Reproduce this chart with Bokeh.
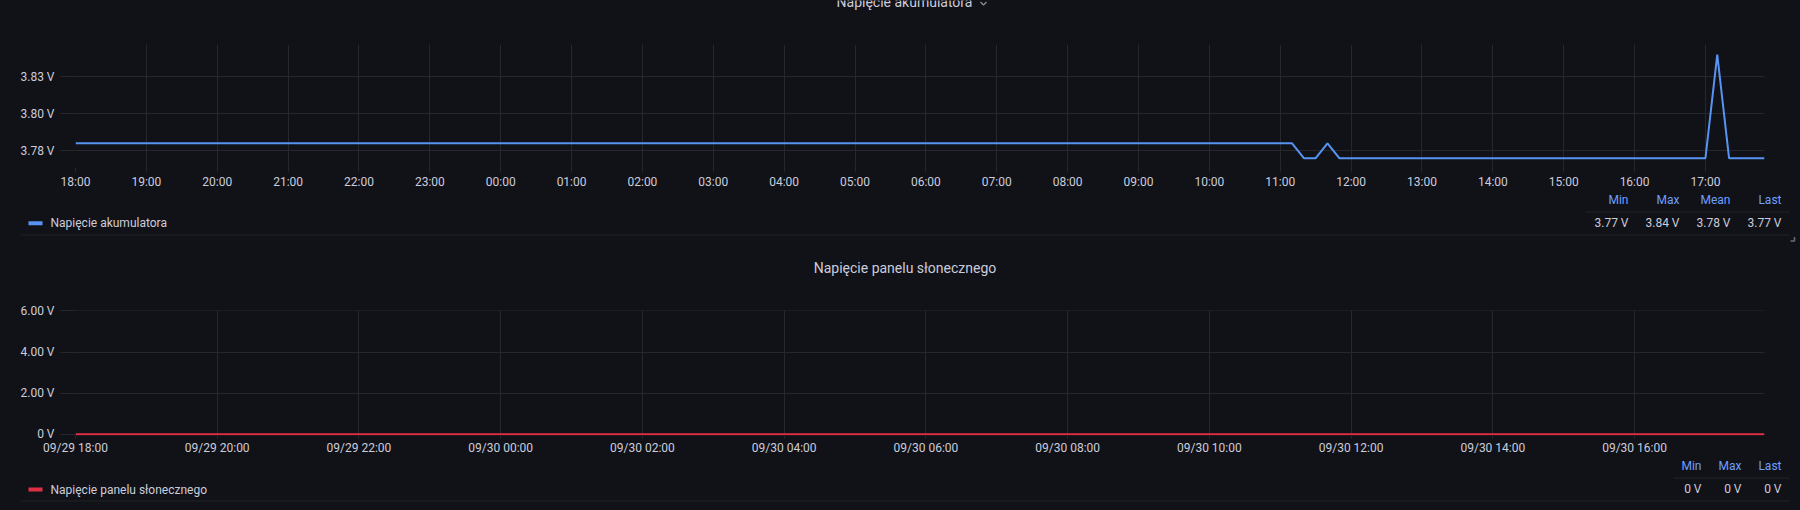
import pandas as pd
from bokeh.plotting import figure
from bokeh.models import (Range1d, FixedTicker, DatetimeTickFormatter,
                          ColumnDataSource, GlobalInlineStyleSheet)
from bokeh.core.properties import value
from bokeh.embed import file_html
from bokeh.resources import INLINE

# ---------------- data ----------------
battery_title = "Napięcie akumulatora"
solar_title = "Napięcie panelu słonecznego"

battery_times = ["2023-09-29 18:00", "2023-09-30 11:10", "2023-09-30 11:20",
                 "2023-09-30 11:30", "2023-09-30 11:40", "2023-09-30 11:50",
                 "2023-09-30 17:00", "2023-09-30 17:10", "2023-09-30 17:20",
                 "2023-09-30 17:50"]
battery_volts = [3.78, 3.78, 3.77, 3.77, 3.78, 3.77, 3.77, 3.84, 3.77, 3.77]

solar_times = ["2023-09-29 18:00", "2023-09-30 17:50"]
solar_volts = [0.0, 0.0]

battery_stat_names = ["Min", "Max", "Mean", "Last"]
battery_stat_values = ["3.77 V", "3.84 V", "3.78 V", "3.77 V"]
solar_stat_names = ["Min", "Max", "Last"]
solar_stat_values = ["0 V", "0 V", "0 V"]

battery_yticks = [3.775, 3.800, 3.825]
battery_ytick_labels = ["3.78 V", "3.80 V", "3.83 V"]
solar_yticks = [0.0, 2.0, 4.0, 6.0]
solar_ytick_labels = ["0 V", "2.00 V", "4.00 V", "6.00 V"]

time_start = "2023-09-29 18:00"
time_end = "2023-09-30 17:50"
battery_xticks = pd.date_range("2023-09-29 18:00", "2023-09-30 17:00", freq="1h")
solar_xticks = pd.date_range("2023-09-29 18:00", "2023-09-30 16:00", freq="2h")

# ---------------- style ----------------
BG = "#111217"
GRID = "#26282d"
SEP = "#202227"
TXT = "#ccccdc"
HDR = "#6e9fff"
BLUE = "#5794f2"
RED = "#e02f44"
FONT = value("Roboto")
W = 1800
FRAME_L, FRAME_R = 75, 1764

page_css = GlobalInlineStyleSheet(
    css="html, body {margin:0; padding:0; background:#111217; overflow:hidden;}")


def ms(ts):
    return [t.value // 10**6 for t in ts]


def make_chart(page_y0, page_y1, frame_top, frame_bottom, yrange, yticks, ylabels,
               xticks, xfmt, tick_out_x, standoff_x):
    p = figure(width=W, height=page_y1 - page_y0, x_axis_type="datetime",
               output_backend="svg", toolbar_location=None,
               x_range=Range1d(pd.Timestamp(time_start), pd.Timestamp(time_end)),
               y_range=Range1d(*yrange),
               min_border_left=FRAME_L, min_border_right=W - FRAME_R,
               min_border_top=frame_top - page_y0,
               min_border_bottom=page_y1 - frame_bottom,
               background_fill_color=BG, border_fill_color=BG,
               outline_line_color=None)
    p.toolbar.logo = None
    ax = p.xaxis[0]
    ax.ticker = FixedTicker(ticks=ms(xticks))
    ax.formatter = DatetimeTickFormatter(
        milliseconds=xfmt, seconds=xfmt, minsec=xfmt, minutes=xfmt,
        hourmin=xfmt, hours=xfmt, days=xfmt, months=xfmt, years=xfmt)
    ax.major_tick_out = tick_out_x
    ax.major_label_standoff = standoff_x
    ay = p.yaxis[0]
    ay.ticker = FixedTicker(ticks=yticks)
    ay.major_label_overrides = {t: l for t, l in zip(yticks, ylabels)}
    ay.major_tick_out = 15
    ay.major_label_standoff = 6
    for a in (ax, ay):
        a.axis_line_color = None
        a.major_tick_in = 0
        a.major_tick_line_color = GRID
        a.minor_tick_line_color = None
        a.major_label_text_font = "Roboto"
        a.major_label_text_font_size = "12px"
        a.major_label_text_color = TXT
    p.xgrid.ticker = ax.ticker
    p.ygrid.ticker = ay.ticker
    p.grid.grid_line_color = GRID
    p.grid.grid_line_width = 1
    return p


def make_deco(y0, y1, **kw):
    # a strip of the page whose data coordinates are page pixels
    p = figure(width=W, height=y1 - y0, output_backend="svg",
               toolbar_location=None, x_range=Range1d(0, W),
               y_range=Range1d(y1, y0), min_border=0,
               x_axis_location=None, y_axis_location=None,
               background_fill_color=BG, border_fill_color=BG,
               outline_line_color=None, **kw)
    p.toolbar.logo = None
    p.grid.visible = False
    return p


def texts(p, xs, ys, txt, size="12px", color=TXT, align="left", baseline="middle"):
    p.text(x=xs, y=ys, text=txt, text_font=FONT, text_font_size=size,
           text_color=color, text_align=align, text_baseline=baseline)


# ---- header (title of first panel, cut at the top edge) ----
d0 = make_deco(0, 40, stylesheets=[page_css])
texts(d0, [904], [1.5], [battery_title], size="14px", align="center",
      baseline="alphabetic")
d0.line(x=[980, 983, 986], y=[1.5, 4.5, 1.5], line_color="#8e9099", line_width=1.2)

# ---- battery chart ----
c1 = make_chart(40, 191, 44, 167, (3.7637, 3.8468), battery_yticks,
                battery_ytick_labels, battery_xticks, "%H:%M", 4, 3)
src1 = ColumnDataSource(dict(t=pd.to_datetime(battery_times), v=battery_volts))
c1.line("t", "v", source=src1, line_color=BLUE, line_width=2)

# ---- battery legend + solar title ----
d1 = make_deco(191, 300)
bat_cols = [1628, 1679, 1730, 1781]
d1.quad(left=[28], right=[42], top=[220.7], bottom=[224.7],
        fill_color=BLUE, line_color=None)
texts(d1, [50], [222.7], [battery_title])
texts(d1, bat_cols, [199.3] * 4, battery_stat_names, color=HDR, align="right")
texts(d1, bat_cols, [222.7] * 4, battery_stat_values, align="right")
d1.segment(x0=[1585, 20], y0=[211.5, 234.5], x1=[1789, 1789], y1=[211.5, 234.5],
           line_color=SEP, line_width=1)
d1.line(x=[1790, 1794, 1794], y=[240.5, 240.5, 236.5], line_color="#6b6d74",
        line_width=1.5)
texts(d1, [904.5], [267.5], [solar_title], size="14px", align="center")

# ---- solar chart ----
c2 = make_chart(300, 458, 310, 435, (-0.063, 6.02), solar_yticks,
                solar_ytick_labels, solar_xticks, "%m/%d %H:%M", 3, 2)
src2 = ColumnDataSource(dict(t=pd.to_datetime(solar_times), v=solar_volts))
c2.line("t", "v", source=src2, line_color=RED, line_width=2)

# ---- solar legend ----
d2 = make_deco(458, 510)
sol_cols = [1701, 1741, 1781]
d2.quad(left=[28], right=[42], top=[487], bottom=[491],
        fill_color=RED, line_color=None)
texts(d2, [50], [489], [solar_title])
texts(d2, sol_cols, [465.7] * 3, solar_stat_names, color=HDR, align="right")
texts(d2, sol_cols, [488.3] * 3, solar_stat_values, align="right")
d2.segment(x0=[1673, 20], y0=[477.5, 500.5], x1=[1789, 1789], y1=[477.5, 500.5],
           line_color=SEP, line_width=1)

# separate page roots stacked top to bottom (no frame alignment between them)
p = [d0, c1, d1, c2, d2]

open("out.html", "w").write(file_html(p, INLINE))
